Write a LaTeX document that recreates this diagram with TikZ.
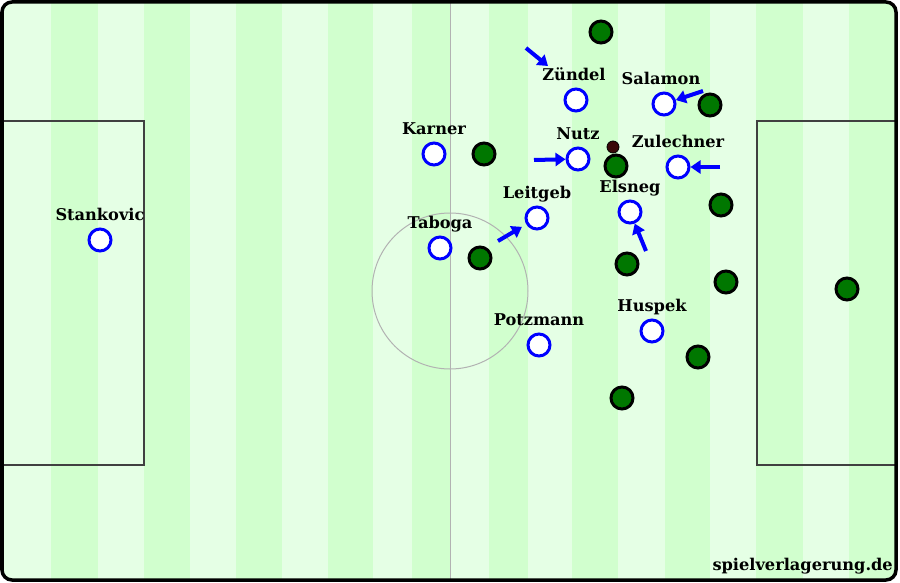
\documentclass[tikz,border=0pt]{standalone}
\usepackage{fontspec}
\setmainfont{DejaVu Serif}
\usetikzlibrary{arrows.meta, positioning}
\definecolor{lightgrass}{RGB}{229,255,229}
\definecolor{darkgrass}{RGB}{209,255,206}
\definecolor{teamgreen}{RGB}{0,119,0}
\definecolor{balldark}{RGB}{58,8,8}
\tikzstyle{home} = [circle, draw=blue, fill=white, line width=3pt, minimum size=22pt, inner sep=0pt]
\tikzstyle{away} = [circle, draw=black, fill=teamgreen, line width=3pt, minimum size=22pt, inner sep=0pt]
\tikzstyle{ball} = [circle, draw=black, fill=balldark, line width=0.8pt, minimum size=12pt, inner sep=0pt]
\tikzstyle{playername} = [font=\bfseries\fontsize{16.2}{16}\selectfont, inner sep=0pt, text depth=3.5pt]
\tikzstyle{move} = [draw=blue, line width=4pt, -{Triangle[length=10pt,width=13pt]}]
\tikzstyle{pitchline} = [draw=black!75, line width=1.2pt]

\begin{document}
\begin{tikzpicture}[x=1pt, y=-1pt]
			\useasboundingbox (0,0) rectangle (900,583);
			% Pitch
			\begin{scope}
				\clip[rounded corners=10pt] (2,2) rectangle (896,580);
				\fill[lightgrass] (0,0) rectangle (900,583);
				\foreach \a/\b in {51/98, 144/190, 236/282, 328/373, 412/450, 489/528, 572/618, 665/710, 756/803, 849/900}
					\fill[darkgrass] (\a,0) rectangle (\b,583);
			\end{scope}
			\draw[black!30, line width=1pt] (450,2) -- (450,580);
			\draw[black!30, line width=1pt] (450,291) circle (78);
			\draw[pitchline] (2,121) rectangle (144,465);
			\draw[pitchline] (757,121) rectangle (896,465);
			\draw[line width=3.5pt, rounded corners=10pt] (2,2) rectangle (896,580);
			
			% Players
			\node (stankovic) [home] at (100,240) {};
			\node (karner) [home] at (434,154) {};
			\node (taboga) [home] at (440,248) {};
			\node (zundel) [home] at (576,100) {};
			\node (salamon) [home] at (664,104) {};
			\node (nutz) [home] at (578,159) {};
			\node (zulechner) [home] at (678,167) {};
			\node (leitgeb) [home] at (537,218) {};
			\node (elsneg) [home] at (630,212) {};
			\node (potzmann) [home] at (539,345) {};
			\node (huspek) [home] at (652,331) {};
			
			\node (opp1) [away] at (601,32) {};
			\node (opp2) [away] at (710,105) {};
			\node (opp3) [away] at (484,154) {};
			\node (opp4) [away] at (616,166) {};
			\node (opp5) [away] at (721,205) {};
			\node (opp6) [away] at (480,258) {};
			\node (opp7) [away] at (627,264) {};
			\node (opp8) [away] at (726,282) {};
			\node (opp9) [away] at (847,289) {};
			\node (opp10) [away] at (698,357) {};
			\node (opp11) [away] at (622,398) {};
			\node (theball) [ball] at (613,147) {};
			
			% Names
			\node (stankovicT) [playername, above=3pt of stankovic] {Stankovic};
			\node (karnerT) [playername, above=3pt of karner] {Karner};
			\node (tabogaT) [playername, above=3pt of taboga] {Taboga};
			\node (zundelT) [playername, above=3pt of zundel, xshift=-2pt] {Zündel};
			\node (salamonT) [playername, above=3pt of salamon, xshift=-3pt] {Salamon};
			\node (nutzT) [playername, above=3pt of nutz] {Nutz};
			\node (zulechnerT) [playername, above=3pt of zulechner] {Zulechner};
			\node (leitgebT) [playername, above=3pt of leitgeb] {Leitgeb};
			\node (elsnegT) [playername, above=3pt of elsneg] {Elsneg};
			\node (potzmannT) [playername, above=3pt of potzmann] {Potzmann};
			\node (huspekT) [playername, above=3pt of huspek] {Huspek};
			\node (site) [playername, anchor=base east] at (893,570) {spielverlagerung.de};
			
			% Arrows
			\coordinate (zundelFrom) at (526,48);
			\coordinate (zundelTo) at (548,66);
			\coordinate (salamonFrom) at (703,91);
			\coordinate (nutzFrom) at (534,160);
			\coordinate (zulechnerFrom) at (720,167);
			\coordinate (leitgebFrom) at (498,241);
			\coordinate (elsnegFrom) at (646,251);
			\draw [move] (zundelFrom) -- (zundelTo);
			\draw [move] (salamonFrom) -- (salamon);
			\draw [move] (nutzFrom) -- (nutz);
			\draw [move] (zulechnerFrom) -- (zulechner);
			\draw [move, shorten >=5pt] (leitgebFrom) -- (leitgeb);
			\draw [move] (elsnegFrom) -- (elsneg);
		\end{tikzpicture}
\end{document}
